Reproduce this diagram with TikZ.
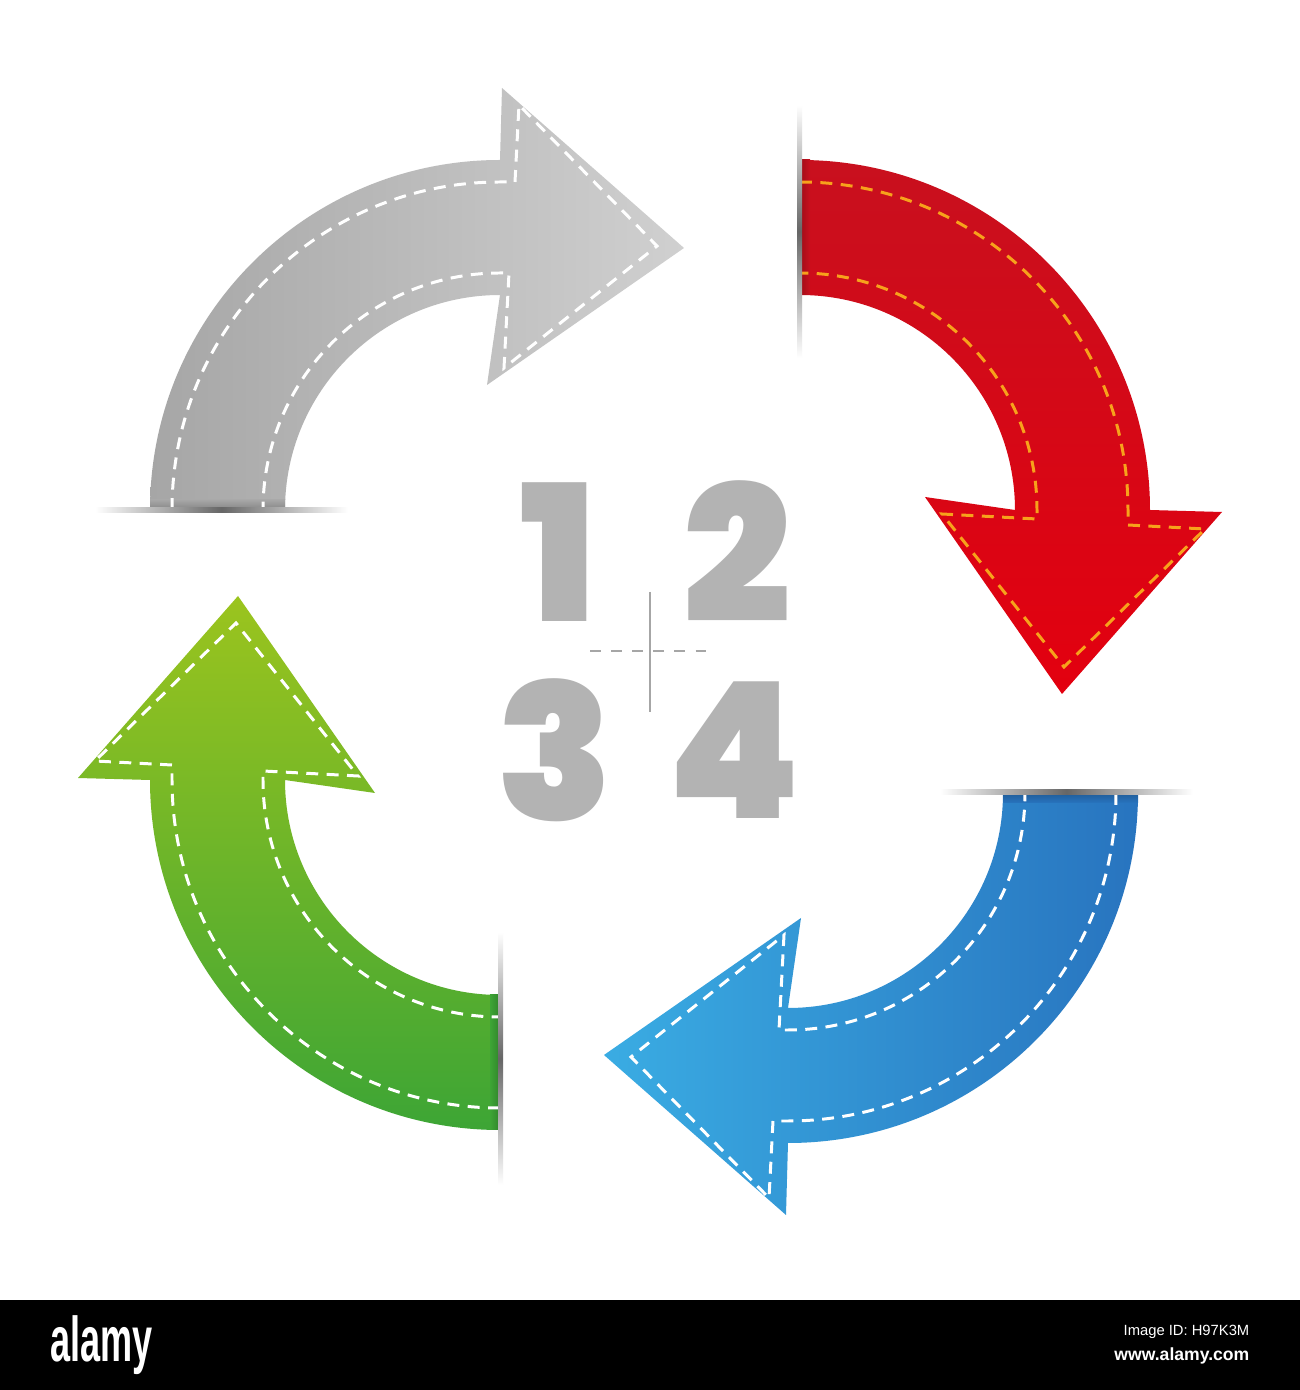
\documentclass[tikz,border=0pt]{standalone}
\usepackage{fontspec}
\newfontfamily\numfont{Poppins Black}
\newfontfamily\logofont{Liberation Sans}
\usetikzlibrary{calc,positioning}

\definecolor{numgray}{HTML}{B3B3B3}
\definecolor{graystart}{HTML}{A6A6A6}
\definecolor{grayhead}{HTML}{D0D0D0}
\definecolor{redstart}{HTML}{C8101E}
\definecolor{redhead}{HTML}{E3000F}
\definecolor{bluestart}{HTML}{2874BF}
\definecolor{bluehead}{HTML}{3AACE3}
\definecolor{greenstart}{HTML}{3DA535}
\definecolor{greenhead}{HTML}{9BC41E}
\definecolor{stitchorange}{HTML}{F7A21B}

\tikzset{%
	stitching/.style = {line width=0.85pt, dash pattern=on 3.4pt off 2.4pt}, % seam
	digit/.style     = {inner sep=0pt, text=numgray, font=\numfont\fontsize{54}{54}\selectfont},
	cross/.style     = {draw=gray!70, line width=0.3pt},
	logo/.style      = {inner sep=0pt, text=white},
}

% one curved arrow: shift, rotation, start colour, head colour, seam colour
\newcommand{\ringarrow}[5]{%
	\begin{scope}[shift={#1},rotate=#2]
		\shade[left color=#3, right color=#4, shading angle=90+#2] (180:350) arc (180:90:350) -- (2,422) -- (184,262) -- (-13,125) -- (0,215) arc (90:180:215) -- cycle;
		\shade[top color=#3, bottom color=#3!80!black, shading angle=#2] (-350,0) rectangle (-215,10);
		\draw[stitching,#5] (180:328) arc (180:90:328) -- (15,328) -- (19,405) -- (157,264) -- (4,142) -- (9,237) -- (0,237) arc (90:180:237);
		\shade[left color=white, right color=white, middle color=black!60, shading angle=90+#2] (-405,-3) rectangle (-152,2);
	\end{scope}}

\begin{document}
\begin{tikzpicture}[x=0.01cm,y=0.01cm]
	\useasboundingbox (0,0) rectangle (1300,1390);
	\fill[white] (0,0) rectangle (1300,1390);

	\ringarrow{(500,880)}{0}{graystart}{grayhead}{white}
	\ringarrow{(800,880)}{-90}{redstart}{redhead}{stitchorange}
	\ringarrow{(788,597)}{180}{bluestart}{bluehead}{white}
	\ringarrow{(500,610)}{90}{greenstart}{greenhead}{white}

	\node[digit] (n1) at (558,838) {1};
	\node[digit] (n2) at (737,838) {2};
	\node[digit] (n3) at (555,640) {3};
	\node[digit] (n4) at (734,640) {4};

	\coordinate (ctop) at (650,798);
	\coordinate (cbot) at (650,678);
	\coordinate (cleft) at (590,739);
	\coordinate (cright) at (710,739);
	\draw[cross] (ctop) -- (cbot);
	\draw[cross,dashed] (cleft) -- (cright);

	% footer
	\fill[black] (0,0) rectangle (1300,90);
	\node[logo,anchor=west,font=\logofont\bfseries\fontsize{18}{18}\selectfont] (brand) at (50,45) {\scalebox{0.57}[1]{alamy}};
	\node[logo,anchor=east,font=\logofont\fontsize{4.2}{5}\selectfont] (imgid) at (1250,58) {Image ID: H97K3M};
	\node[logo,anchor=east,font=\logofont\bfseries\fontsize{5}{6}\selectfont] (site) at (1250,34) {www.alamy.com};
\end{tikzpicture}
\end{document}
